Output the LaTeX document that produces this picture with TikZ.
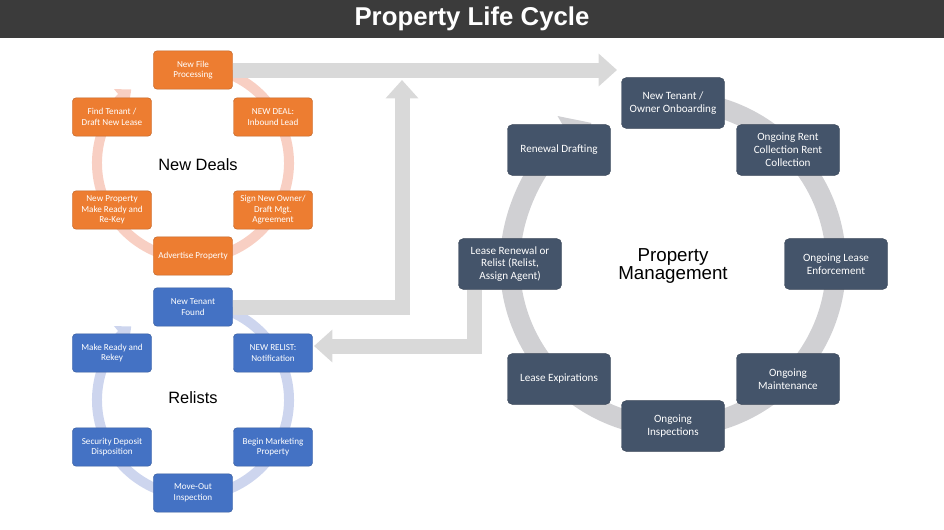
\documentclass[tikz,border=0pt]{standalone}
\usepackage{fontspec}
\setmainfont{Carlito}
\newfontfamily\headfont{Liberation Sans}
\usetikzlibrary{positioning, calc, arrows.meta}
\definecolor{orangebox}{HTML}{ED7D31}
\definecolor{bluebox}{HTML}{4472C4}
\definecolor{darkbox}{HTML}{44546A}
\definecolor{ringorange}{HTML}{F8CFC3}
\definecolor{ringblue}{HTML}{CDD5EE}
\definecolor{ringgray}{HTML}{D0D0D3}
\definecolor{flowgray}{HTML}{D9D9D9}
\definecolor{titlebar}{HTML}{3B3B3B}
\begin{document}
\begin{tikzpicture}[x=0.03cm, y=-0.03cm,
    smallbox/.style={draw=#1!80!black, fill=#1, rounded corners=3pt, minimum width=2.37cm, minimum height=1.15cm, align=center, text=white, font=\fontsize{7.8}{9}\selectfont, inner sep=1pt},
    bigbox/.style={draw=darkbox!80!black, fill=darkbox, rounded corners=4pt, minimum width=3.09cm, minimum height=1.52cm, align=center, text=white, font=\fontsize{9.5}{11}\selectfont, inner sep=1pt},
    flow/.style={flowgray, line width=0.45cm, -{Triangle[width=0.95cm, length=0.55cm]}},
    ring/.style={line width=#1, -{Triangle[width=2.2*#1, length=1.3*#1]}}]
	\useasboundingbox (0,0) rectangle (944,530);
	\fill[titlebar] (0,0) rectangle (944,38);
	\node (title) at (472,19) {\headfont\bfseries\fontsize{22}{25}\selectfont\color{white}Property Life Cycle};
	
	% rings
	\draw[ringorange, ring=0.3cm] (193,163) ++(75:2.88cm) arc[start angle=75, end angle=-230, radius=2.88cm];
	\draw[ringblue, ring=0.3cm] (193,400) ++(75:2.88cm) arc[start angle=75, end angle=-230, radius=2.88cm];
	\draw[ringgray, ring=0.6cm] (673,264) ++(80:4.89cm) arc[start angle=80, end angle=-240, radius=4.89cm];
	
	% new deals
	\node (n1) [smallbox=orangebox] at (193,70) {New File\\Processing};
	\node (n2) [smallbox=orangebox] at (273,117) {NEW DEAL:\\Inbound Lead};
	\node (n3) [smallbox=orangebox] at (273,210) {Sign New Owner/\\Draft Mgt.\\Agreement};
	\node (n4) [smallbox=orangebox] at (193,256) {Advertise Property};
	\node (n5) [smallbox=orangebox] at (112,210) {New Property\\Make Ready and\\Re-Key};
	\node (n6) [smallbox=orangebox] at (112,117) {Find Tenant /\\Draft New Lease};
	\node (deals) at (198,165) {\headfont\fontsize{14}{16}\selectfont New Deals};
	
	% relists
	\node (r1) [smallbox=bluebox] at (193,307) {New Tenant\\Found};
	\node (r2) [smallbox=bluebox] at (273,353) {NEW RELIST:\\Notification};
	\node (r3) [smallbox=bluebox] at (273,447) {Begin Marketing\\Property};
	\node (r4) [smallbox=bluebox] at (193,493) {Move-Out\\Inspection};
	\node (r5) [smallbox=bluebox] at (112,447) {Security Deposit\\Disposition};
	\node (r6) [smallbox=bluebox] at (112,353) {Make Ready and\\Rekey};
	\node (relists) at (193,398) {\headfont\fontsize{14}{16}\selectfont Relists};
	
	% property management
	\node (m1) [bigbox] at (673,103) {New Tenant /\\Owner Onboarding};
	\node (m2) [bigbox] at (788,150) {Ongoing Rent\\Collection Rent\\Collection};
	\node (m3) [bigbox] at (836,264) {Ongoing Lease\\Enforcement};
	\node (m4) [bigbox] at (788,379) {Ongoing\\Maintenance};
	\node (m5) [bigbox] at (673,426) {Ongoing\\Inspections};
	\node (m6) [bigbox] at (559,379) {Lease Expirations};
	\node (m7) [bigbox] at (510,264) {Lease Renewal or\\Relist (Relist,\\Assign Agent)};
	\node (m8) [bigbox] at (559,150) {Renewal Drafting};
	\node (mgmt) [align=center] at (673,266) {\headfont\fontsize{16}{19}\selectfont Property\\\headfont\fontsize{16}{19}\selectfont Management};
	
	% flows between cycles
	\coordinate (c1) at (617,70);
	\coordinate (c2) at (402,80);
	\coordinate (c3) at (314,346);
	\coordinate (c4) at (474,290);
	\draw[flow] (n1.east) -- (c1);
	\draw[flow] (r1.east) -- (r1.east -| c2) -- (c2);
	\draw[flow] (c4) -- (c4 |- c3) -- (c3);
\end{tikzpicture}
\end{document}
